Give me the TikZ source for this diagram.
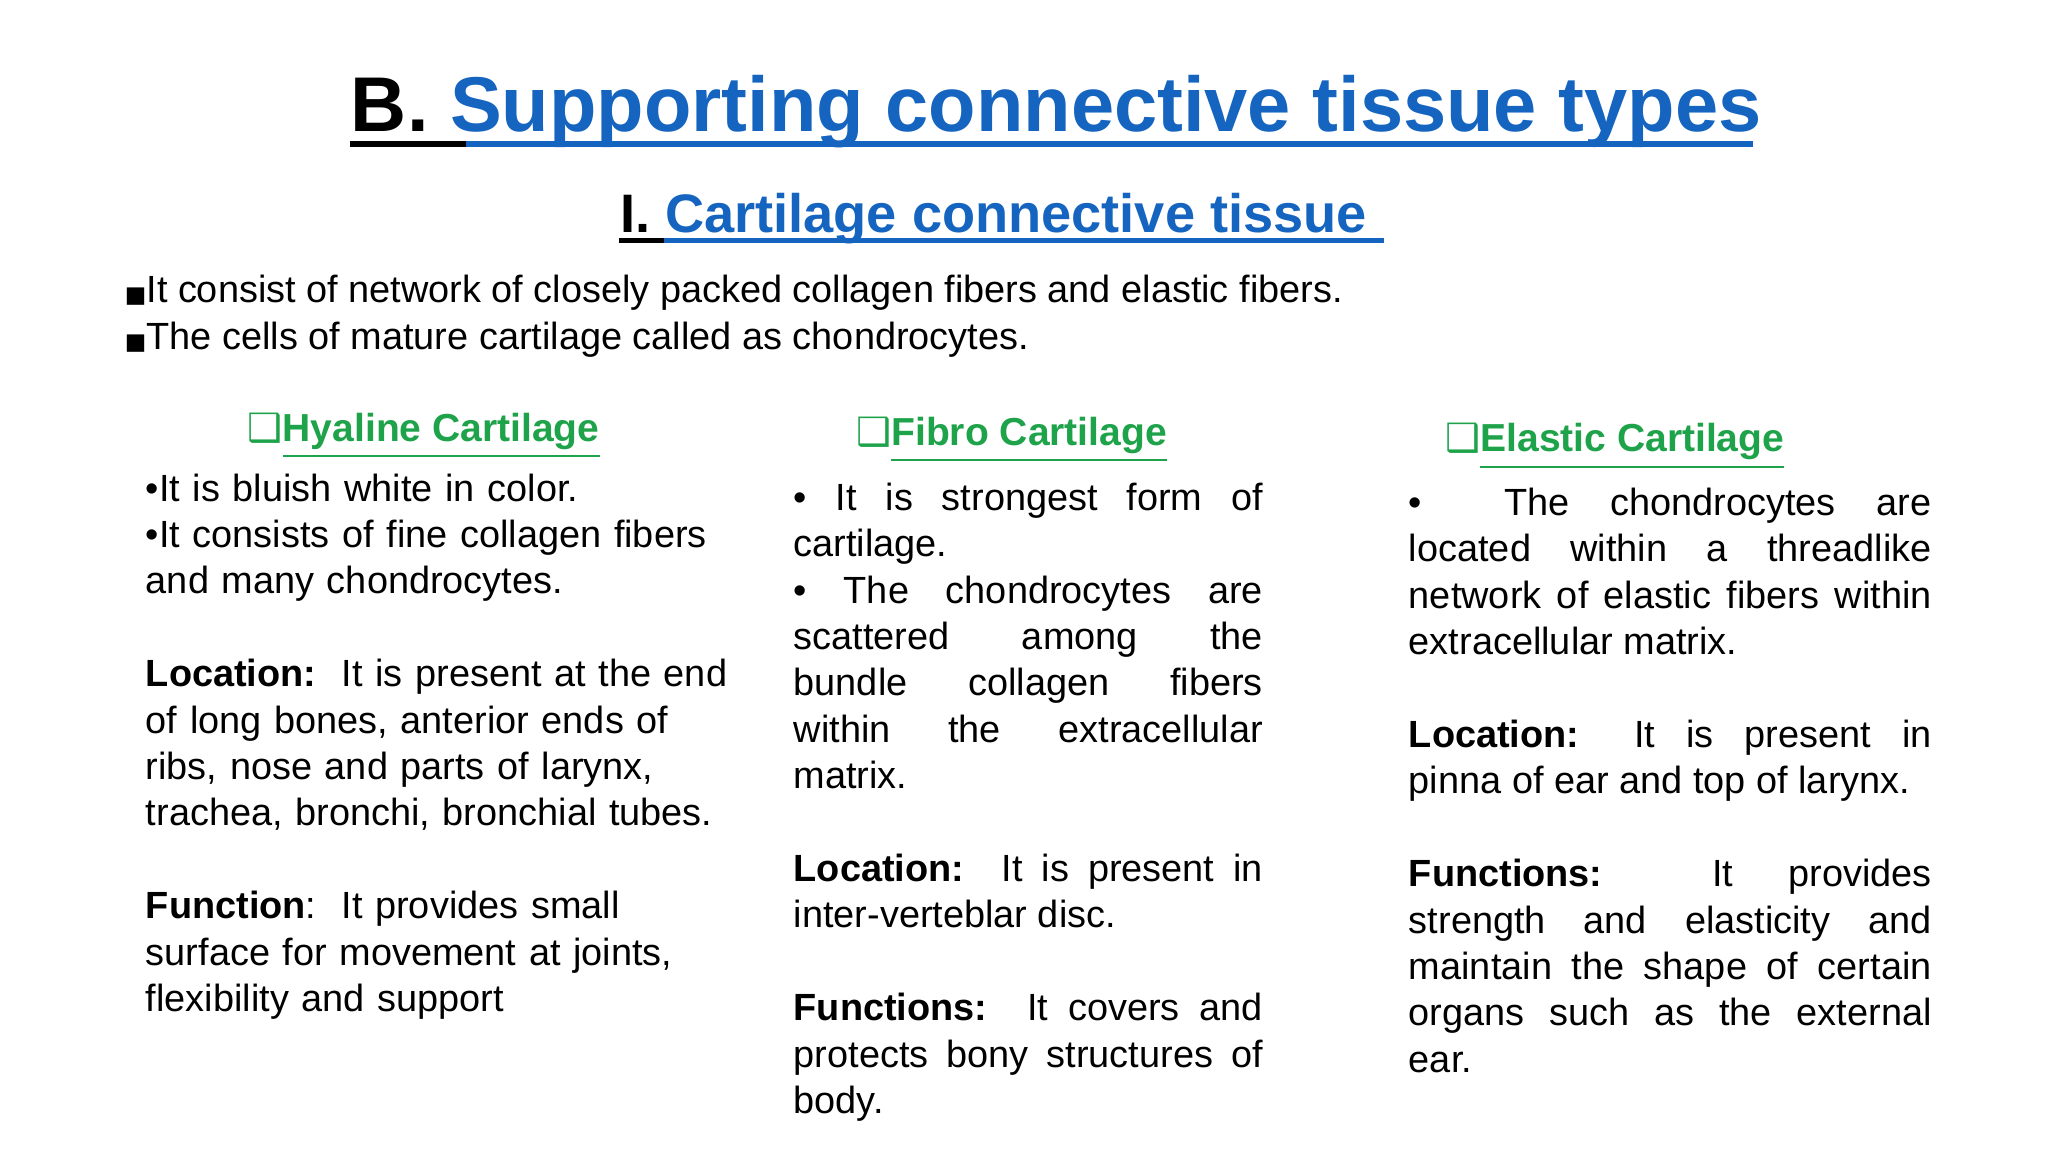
\documentclass[tikz,border=0pt]{standalone}
\usepackage{fontspec}
\setmainfont{Liberation Sans}
\newfontfamily\djsym{DejaVu Sans}
\definecolor{tblue}{HTML}{1565C0}
\definecolor{tgreen}{HTML}{1FA34A}
\hyphenpenalty=10000 \exhyphenpenalty=10000
\tikzset{col/.style={anchor=north west,inner sep=0pt,font=\fontsize{8.25}{10.1}\selectfont},
 head/.style={anchor=base west,inner sep=0pt,font=\fontsize{8.5}{10}\selectfont\bfseries,text=tgreen}}
\newcommand{\sqb}{{\djsym\scalebox{0.6}{■}}}
\begin{document}
\begin{tikzpicture}[x=0.01cm,y=-0.01cm]
\useasboundingbox[fill=white] (0,0) rectangle (1568,882);
\node[anchor=base west,inner sep=0pt,font=\fontsize{16.9}{18}\selectfont\bfseries] (title) at (268,101) {B.\ \textcolor{tblue}{Supporting connective tissue types}};
\draw[line width=1.3pt] (268,110) -- (357,110);
\draw[line width=1.3pt,tblue] (357,110) -- (1342,110);
\node[anchor=base west,inner sep=0pt,font=\fontsize{11.8}{13}\selectfont\bfseries] (sub) at (474,178) {I.\ \textcolor{tblue}{Cartilage connective tissue}};
\draw[line width=1pt] (474,184) -- (508,184);
\draw[line width=1pt,tblue] (508,184) -- (1060,184);
\node[anchor=north west,inner sep=0pt,font=\fontsize{8.25}{10.1}\selectfont,align=left] (intro) at (95,210) {\sqb It consist of network of closely packed collagen fibers and elastic fibers.\\\sqb The cells of mature cartilage called as chondrocytes.};
\node[head] (h1) at (189,338) {{\djsym ❑}\underline{Hyaline Cartilage}};
\node[head] (h2) at (655,341) {{\djsym ❑}\underline{Fibro Cartilage}};
\node[head] (h3) at (1106,346) {{\djsym ❑}\underline{Elastic Cartilage}};
\node[col,text width=4.45cm,align=left] (c1) at (111,362) {•It is bluish white in color.\\•It consists of fine collagen fibers\\and many chondrocytes.\\[10.1pt]
\textbf{Location:}\ \ It is present at the end\\of long bones, anterior ends of\\ribs, nose and parts of larynx,\\trachea, bronchi, bronchial tubes.\\[10.1pt]
\textbf{Function}:\ \ It provides small\\surface for movement at joints,\\flexibility and support};
\node[col,text width=3.59cm,align=justify] (c2) at (607,369) {• It is strongest form of\linebreak cartilage.\par • The chondrocytes are\linebreak scattered among the\linebreak bundle collagen fibers\linebreak within the extracellular\linebreak matrix.\par\vspace{10.1pt}
\textbf{Location:}\ \ It is present in\linebreak inter-verteblar disc.\par\vspace{10.1pt}
\textbf{Functions:}\ \ It covers and\linebreak protects bony structures of\linebreak body.};
\node[col,text width=4.0cm,align=justify] (c3) at (1078,373) {• \ The chondrocytes are\linebreak located within a threadlike\linebreak network of elastic fibers within\linebreak extracellular matrix.\par\vspace{10.1pt}
\textbf{Location:} It is present in\linebreak pinna of ear and top of larynx.\par\vspace{10.1pt}
\textbf{Functions:}\ \ It provides\linebreak strength and elasticity and\linebreak maintain the shape of certain\linebreak organs such as the external\linebreak ear.};
\end{tikzpicture}
\end{document}
